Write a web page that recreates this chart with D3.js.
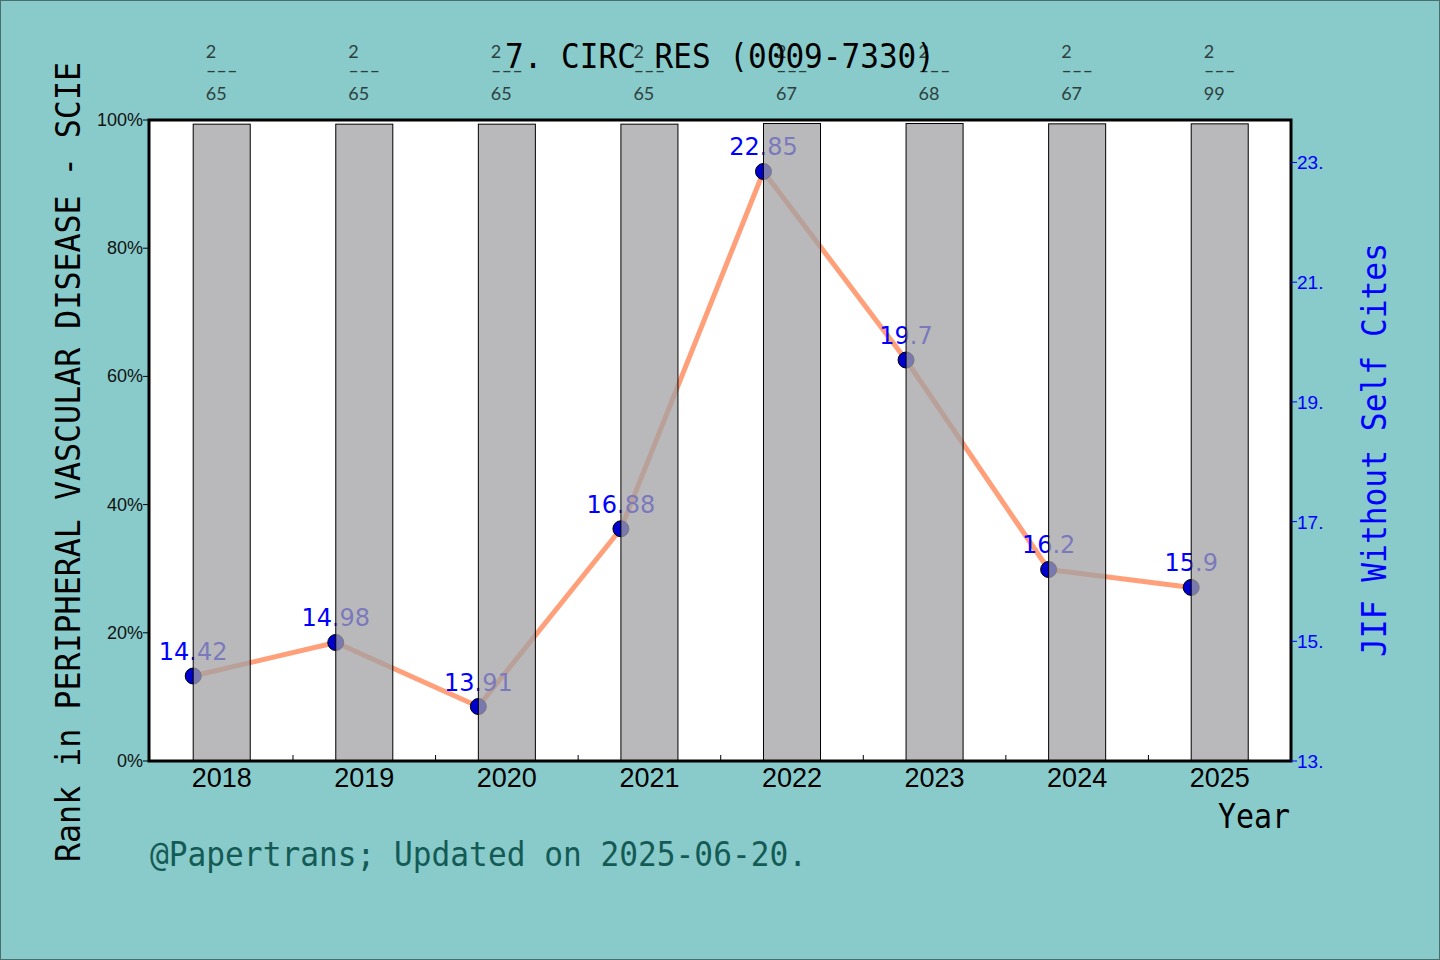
<!DOCTYPE html>
<html>
<head>
<meta charset="utf-8">
<script src="https://cdn.jsdelivr.net/npm/d3@7"></script>
<style>
html,body{margin:0;padding:0;background:#88cbca;}
svg{display:block;}
</style>
</head>
<body>
<svg id="chart" width="1440" height="960"></svg>
<script>
const years = ["2018","2019","2020","2021","2022","2023","2024","2025"];
const jif = [14.42, 14.98, 13.91, 16.88, 22.85, 19.7, 16.2, 15.9];
const jifLabels = ["14.42","14.98","13.91","16.88","22.85","19.7","16.2","15.9"];
const rankPct = [99.35, 99.35, 99.35, 99.35, 99.45, 99.45, 99.4, 99.4];
const ranks = ["2","2","2","2","2","2","2","2"];
const totals = ["65","65","65","65","67","68","67","99"];
const leftTicks = [0, 20, 40, 60, 80, 100];
const rightTicks = [13, 15, 17, 19, 21, 23];
const rightTickLabels = ["13.","15.","17.","19.","21.","23."];
const title = "7. CIRC RES (0009-7330)";
const yLabelLeft = "Rank in PERIPHERAL VASCULAR DISEASE - SCIE";
const yLabelRight = "JIF Without Self Cites";
const xLabel = "Year";
const footer = "@Papertrans; Updated on 2025-06-20.";

const svg = d3.select("#chart");
const W = 1440, H = 960;
const L = 149, R = 1291, T = 120, B = 761;
const mono = "'DejaVu Sans Mono', monospace";
const sans = "'Liberation Sans', Arial, sans-serif";

svg.append("rect").attr("x",0.5).attr("y",0.5).attr("width",W-1).attr("height",H-1)
  .attr("fill","#88cbca").attr("stroke","#4a6e6e").attr("stroke-width",1);

const x = d3.scaleLinear().domain([-0.31, 7.70]).range([L, R]);
const yL = d3.scaleLinear().domain([0, 100]).range([B, T]);
const yR = d3.scaleLinear().domain([13, 23.71]).range([B, T]);

// plot background
svg.append("rect").attr("x",L).attr("y",T).attr("width",R-L).attr("height",B-T).attr("fill","#ffffff");

// line
const line = d3.line().x((d,i)=>x(i)).y(d=>yR(d));
svg.append("path").datum(jif).attr("d",line).attr("fill","none")
  .attr("stroke","#ffa07a").attr("stroke-width",5).attr("stroke-linejoin","round");

// points
svg.selectAll("circle.pt").data(jif).enter().append("circle")
  .attr("cx",(d,i)=>x(i)).attr("cy",d=>yR(d)).attr("r",8)
  .attr("fill","#0000cd").attr("stroke","#000").attr("stroke-width",1);

// data labels
svg.selectAll("text.dl").data(jif).enter().append("text")
  .attr("x",(d,i)=>x(i)).attr("y",d=>yR(d)-16)
  .attr("text-anchor","middle").attr("font-family","'DejaVu Sans', sans-serif").attr("font-size",24)
  .attr("fill","#0000ff").text((d,i)=>jifLabels[i]);

// bars on top, semi-transparent
svg.selectAll("rect.bar").data(rankPct).enter().append("rect")
  .attr("x",(d,i)=>x(i)).attr("y",d=>yL(d))
  .attr("width",(d,i)=>x(i+0.4)-x(i)).attr("height",d=>B-yL(d))
  .attr("fill","rgba(161,162,164,0.75)").attr("stroke","#000").attr("stroke-width",1);

// bottom inner ticks
const minor = d3.range(0,7).map(i=>i+0.7);
svg.selectAll("line.mt").data(minor).enter().append("line")
  .attr("x1",d=>x(d)).attr("x2",d=>x(d)).attr("y1",B).attr("y2",B-6)
  .attr("stroke","#000").attr("stroke-width",1);

// spines
svg.append("rect").attr("x",L).attr("y",T).attr("width",R-L).attr("height",B-T)
  .attr("fill","none").attr("stroke","#000").attr("stroke-width",3);

// left axis ticks
svg.selectAll("line.lt").data(leftTicks).enter().append("line")
  .attr("x1",L-6).attr("x2",L).attr("y1",d=>yL(d)).attr("y2",d=>yL(d))
  .attr("stroke","#000").attr("stroke-width",1);
svg.selectAll("text.lt").data(leftTicks).enter().append("text")
  .attr("x",L-6).attr("y",d=>yL(d)+6).attr("text-anchor","end")
  .attr("font-family",sans).attr("font-size",18).attr("fill","#111").text(d=>d+"%");

// right axis ticks
svg.selectAll("line.rt").data(rightTicks).enter().append("line")
  .attr("x1",R).attr("x2",R+6).attr("y1",d=>yR(d)).attr("y2",d=>yR(d))
  .attr("stroke","#0000ff").attr("stroke-width",1);
svg.selectAll("text.rt").data(rightTicks).enter().append("text")
  .attr("x",R+6).attr("y",d=>yR(d)+7).attr("text-anchor","start")
  .attr("font-family",sans).attr("font-size",19).attr("fill","#0000ff").text((d,i)=>rightTickLabels[i]);

// x tick labels
svg.selectAll("text.xt").data(years).enter().append("text")
  .attr("x",(d,i)=>x(i+0.2)).attr("y",787).attr("text-anchor","middle")
  .attr("font-family",sans).attr("font-size",27).attr("fill","#000").text(d=>d);

// top rank labels
years.forEach((yv,i)=>{
  const cx = x(i+0.2);
  const left = cx - 16;
  const g = svg.append("g").attr("font-family","Lato, 'Open Sans', sans-serif").attr("font-size",18).attr("fill","#2e3f3f");
  g.append("text").attr("x",left).attr("y",58).text(ranks[i]);
  g.append("text").attr("x",left).attr("y",77).attr("textLength",32).attr("lengthAdjust","spacingAndGlyphs").text("---");
  g.append("text").attr("x",left).attr("y",100).text(totals[i]);
});

// title
svg.append("text").attr("x",720).attr("y",68).attr("text-anchor","middle")
  .attr("font-family",mono).attr("font-size",34).attr("fill","#000")
  .attr("textLength",430).attr("lengthAdjust","spacingAndGlyphs").text(title);

// left y label
svg.append("text").attr("transform","translate(80,462) rotate(-90)").attr("text-anchor","middle")
  .attr("font-family",mono).attr("font-size",34).attr("fill","#000")
  .attr("textLength",800).attr("lengthAdjust","spacingAndGlyphs").text(yLabelLeft);

// right y label
svg.append("text").attr("transform","translate(1386,450) rotate(-90)").attr("text-anchor","middle")
  .attr("font-family",mono).attr("font-size",34).attr("fill","#0000ff")
  .attr("textLength",414).attr("lengthAdjust","spacingAndGlyphs").text(yLabelRight);

// x label
svg.append("text").attr("x",1290).attr("y",828).attr("text-anchor","end")
  .attr("font-family",mono).attr("font-size",34).attr("fill","#000")
  .attr("textLength",72).attr("lengthAdjust","spacingAndGlyphs").text(xLabel);

// footer
svg.append("text").attr("x",150).attr("y",866).attr("text-anchor","start")
  .attr("font-family",mono).attr("font-size",34).attr("fill","#145a55")
  .attr("textLength",657).attr("lengthAdjust","spacingAndGlyphs").text(footer);
</script>
</body>
</html>
